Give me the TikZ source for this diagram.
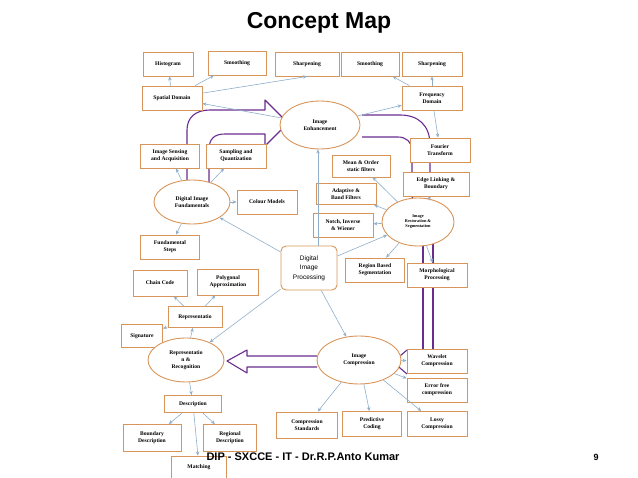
\documentclass[tikz,border=0pt]{standalone}
\usepackage{fontspec}
\setmainfont{Liberation Serif}
\newfontfamily\sansf{Liberation Sans}
\usetikzlibrary{shapes.geometric,arrows.meta}
\definecolor{boxor}{HTML}{D8955A}
\definecolor{arrbl}{HTML}{8EAECB}
\definecolor{purp}{HTML}{6A2D8F}
\begin{document}
\begin{tikzpicture}[x=1pt,y=-1pt,
  bx/.style={draw=boxor,line width=0.9pt,fill=white,align=center,inner sep=1pt,
    font=\fontsize{5.6}{7}\selectfont\bfseries,minimum width=#1,minimum height=24},
  bx/.default=58,
  el/.style={ellipse,draw=boxor,line width=0.9pt,fill=white,align=center,inner sep=0pt,
    font=\fontsize{5.6}{7}\selectfont\bfseries},
  ar/.style={draw=arrbl,line width=0.6pt,-{Stealth[length=4pt,width=3.5pt]}},
  pu/.style={draw=purp,line width=1.1pt,fill=white}]
\useasboundingbox (0,0) rectangle (638,478);
\node[font=\sansf\fontsize{23}{26}\selectfont\bfseries] (title) at (319,23) {Concept Map};
% purple arrows
\draw[pu,line join=round] (187,190) -- (187,130) .. controls (187,118) and (195,110) .. (210,110) -- (265,110) -- (265,100) -- (288,123) -- (265,146) -- (265,134) -- (225,134) .. controls (214,134) and (209,139) .. (209,150) -- (209,190);
\draw[pu,line join=round] (362,115) -- (400,115) .. controls (418,115) and (430,125) .. (430,145) -- (430,197) -- (421,207) -- (412,197) -- (412,150) .. controls (412,142) and (406,137) .. (398,137) -- (362,137);
\draw[pu] (423,240) -- (423,350) (433,240) -- (433,350);
\draw[pu,line join=round] (317,356) -- (247,356) -- (247,350) -- (227,361) -- (247,373) -- (247,367) -- (317,367);
\draw[pu,line join=round] (407,350) -- (393,362) -- (407,374);
% nodes
\node[bx=50] (hist) at (168,64) {Histogram};
\node[bx] (sm1) at (237,63) {Smoothing};
\node[bx=64] (sh1) at (307,64) {Sharpening};
\node[bx] (sm2) at (370,64) {Smoothing};
\node[bx=60] (sh2) at (432,64) {Sharpening};
\node[bx=60] (spat) at (172,98) {Spatial Domain};
\node[bx=60] (freq) at (432,98) {Frequency\\Domain};
\node[el,minimum width=80,minimum height=48] (enh) at (320,125) {Image\\Enhancement};
\node[bx=60] (four) at (440,150) {Fourier\\Transform};
\node[bx=58,minimum height=22] (mean) at (361,166) {Mean \& Order\\static filters};
\node[bx=59] (sens) at (170,156) {Image Sensing\\and Acquisition};
\node[bx=60] (samp) at (236,156) {Sampling and\\Quantization};
\node[bx=66] (edge) at (436,184) {Edge Linking \&\\Boundary};
\node[bx=60,minimum height=21] (adap) at (346,194) {Adaptive \&\\Band Filters};
\node[el,minimum width=76,minimum height=44] (dif) at (192,202) {Digital Image\\Fundamentals};
\node[bx=60] (col) at (267,202) {Colour Models};
\node[bx=60] (notch) at (343,225) {Notch, Inverse\\\& Wiener};
\node[el,minimum width=72,minimum height=48,font=\fontsize{4.3}{5}\selectfont\bfseries] (rest) at (418,222) {Image\\Restoration \&\\Segmentation};
\node[bx=59] (fund) at (170,247) {Fundamental\\Steps};
\node[draw=boxor,line width=0.9pt,fill=white,rounded corners=5pt,align=center,minimum width=56,minimum height=44,font=\sansf\fontsize{6.5}{9.5}\selectfont] (dip) at (309,268) {Digital\\Image\\Processing};
\node[bx=59] (reg) at (375,270) {Region Based\\Segmentation};
\node[bx=60] (morph) at (437,275) {Morphological\\Processing};
\node[bx=54,minimum height=26] (chain) at (160,283) {Chain Code};
\node[bx=61,minimum height=26] (poly) at (228,282) {Polygonal\\Approximation};
\node[bx=54,minimum height=21] (repr) at (195,317) {Representatio};
\node[bx=41,minimum height=23] (sig) at (142,336) {Signature};
\node[el,minimum width=76,minimum height=44] (rr) at (186,360) {Representatio\\n \&\\Recognition};
\node[el,minimum width=84,minimum height=48] (comp) at (359,360) {Image\\Compression};
\node[bx=60] (wav) at (437,361) {Wavelet\\Compression};
\node[bx=60] (err) at (437,390) {Error free\\compression};
\node[bx=57,minimum height=17] (desc) at (193,404) {Description};
\node[bx=61,minimum height=26] (cstd) at (307,425) {Compression\\Standards};
\node[bx=59,minimum height=25] (pred) at (372,424) {Predictive\\Coding};
\node[bx=60,minimum height=25] (lossy) at (437,424) {Lossy\\Compression};
\node[bx=58,minimum height=27] (bdesc) at (152,438) {Boundary\\Description};
\node[bx=53,minimum height=27] (rdesc) at (230,438) {Regional\\Description};
\node[bx=55,minimum height=22] (match) at (199,467) {Matching};
\node[font=\sansf\fontsize{11}{13}\selectfont\bfseries] (foot) at (303,457) {DIP - SXCCE - IT - Dr.R.P.Anto Kumar};
\node[font=\sansf\fontsize{9}{11}\selectfont\bfseries] (pg) at (596,457) {9};
% blue arrows
\draw[ar] (spat) -- (hist);
\draw[ar] (spat) -- (sm1);
\draw[ar] (spat) -- (sh1.south);
\draw[ar] (enh) -- (spat);
\draw[ar] (enh) -- (freq);
\draw[ar] (freq) -- (sm2);
\draw[ar] (freq) -- (sh2);
\draw[ar] (freq) -- (four);
\draw[ar] (dif) -- (sens);
\draw[ar] (dif) -- (samp);
\draw[ar] (dif) -- (col);
\draw[ar] (dif) -- (fund);
\draw[ar] (dip) -- (dif);
\draw[ar] (dip.north) ++(9,0) coordinate (dipn) -- (dipn |- enh.south);
\draw[ar] (dip) -- (rest);
\draw[ar] (dip) -- (rr);
\draw[ar] (dip) -- (comp);
\draw[ar] (rest) -- (mean);
\draw[ar] (rest) -- (adap);
\draw[ar] (rest) -- (notch);
\draw[ar] (rest) -- (edge);
\draw[ar] (rest) -- (reg);
\draw[ar] (rest) -- (morph);
\draw[ar] (rr) -- (repr);
\draw[ar] (repr) -- (chain);
\draw[ar] (repr) -- (poly);
\draw[ar] (repr) -- (sig);
\draw[ar] (rr) -- (desc);
\draw[ar] (desc) -- (bdesc);
\draw[ar] (desc) -- (rdesc);
\draw[ar] (desc) -- (match);
\draw[ar] (comp) -- (wav);
\draw[ar] (comp) -- (err);
\draw[ar] (comp) -- (cstd);
\draw[ar] (comp) -- (pred);
\draw[ar] (comp) -- (lossy);
\end{tikzpicture}
\end{document}
